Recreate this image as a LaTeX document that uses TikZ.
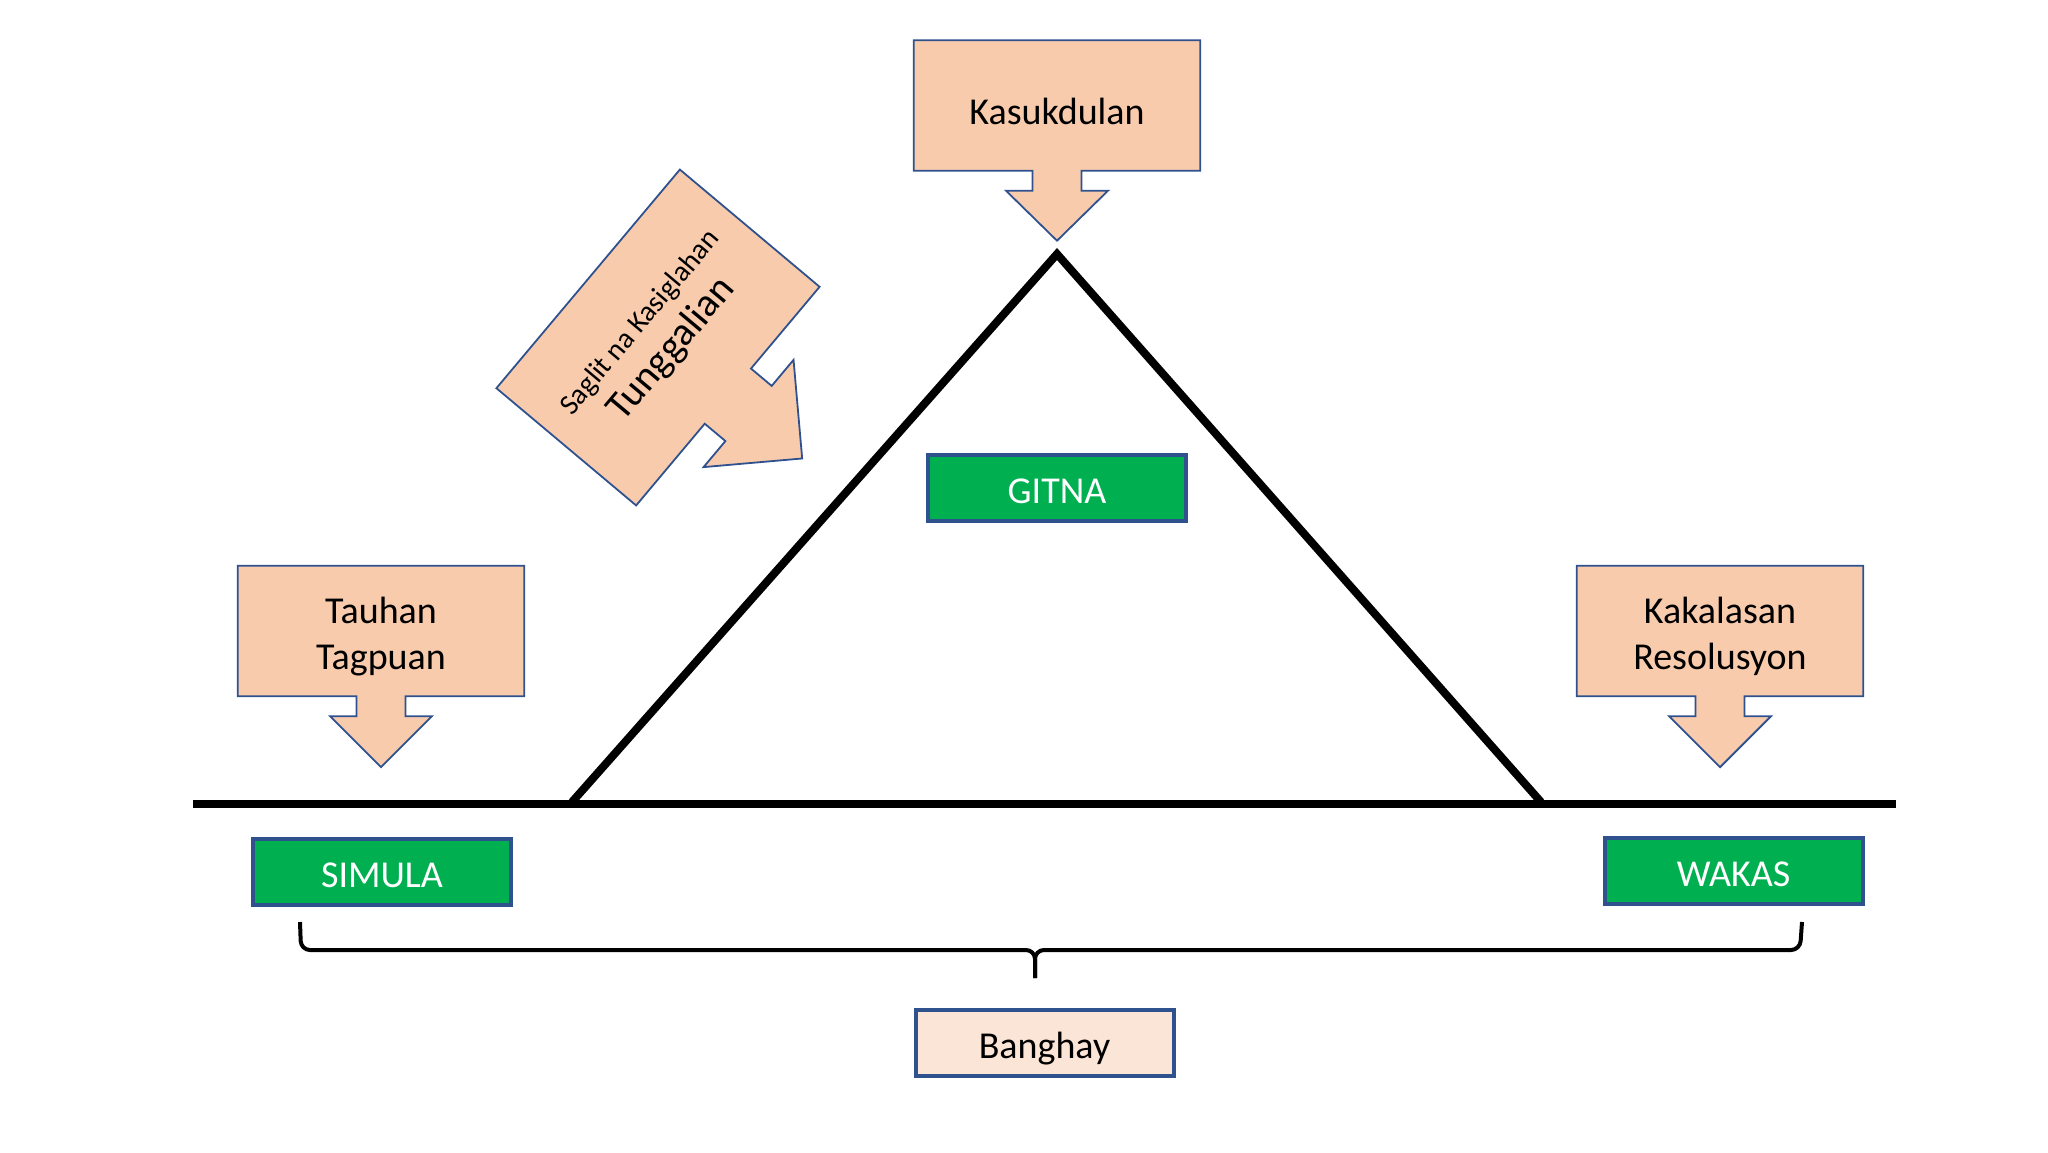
\documentclass[tikz,border=0pt]{standalone}
\usepackage{fontspec}
\setmainfont{Carlito}
\usetikzlibrary{backgrounds,calc}

\definecolor{peach}{HTML}{F8CBAD}
\definecolor{peachlight}{HTML}{FBE5D6}
\definecolor{edgeblue}{HTML}{2F528F}
\definecolor{stagegreen}{HTML}{00B050}

\begin{document}
\begin{tikzpicture}[
    x=1pt, y=-1pt,
    note/.style={align=center, text width=286pt, minimum height=130pt, inner sep=0pt, font=\fontsize{38}{46}\selectfont, execute at begin node={\rule{0pt}{38pt}}},
    callout/.style={fill=peach, draw=edgeblue, line width=1.8pt, line join=miter},
    stagebox/.style={draw=edgeblue, line width=4pt, fill=stagegreen, text=white, minimum width=258pt, minimum height=66pt, inner sep=0pt, text height=30pt, text depth=0pt, font=\fontsize{38}{46}\selectfont},
    plotline/.style={line width=8pt, line join=miter},
    brace/.style={line width=4pt, rounded corners=9pt}
]
\useasboundingbox (0,0) rectangle (2048,1152);

% story line and triangle
\coordinate (lineL) at (193,804);
\coordinate (lineR) at (1896,804);
\coordinate (apex) at (1057,254);
\coordinate (baseL) at (572,802);
\coordinate (baseR) at (1541,802);
\draw[plotline] (lineL) -- (lineR);
\draw[plotline] (baseL) -- (apex) -- (baseR);

% callouts
\node[note] (kas) at (1057,105.5) {Kasukdulan};
\node[note] (tauhan) at (381,631) {Tauhan\\Tagpuan};
\node[note] (kakal) at (1720,631) {Kakalasan\\Resolusyon};
\node[align=center, inner sep=0pt, minimum width=285pt, minimum height=182pt, rotate=50] (sag) at (658,337.5)
    {\fontsize{29}{36}\selectfont Saglit na Kasiglahan\\[10pt]\fontsize{40}{46}\selectfont Tunggalian};

\begin{scope}[on background layer]
\draw[callout] (kas.north west) -- (kas.north east) -- (kas.south east) -- ($(kas.south)+(24.5,0)$) -- ++(0,20) -- ++(26.5,0) -- ($(kas.south)+(0,70)$) -- ($(kas.south)+(-51,20)$) -- ++(26.5,0) -- ++(0,-20) -- (kas.south west) -- cycle;
\draw[callout] (tauhan.north west) -- (tauhan.north east) -- (tauhan.south east) -- ($(tauhan.south)+(24.5,0)$) -- ++(0,20) -- ++(26.5,0) -- ($(tauhan.south)+(0,71)$) -- ($(tauhan.south)+(-51,20)$) -- ++(26.5,0) -- ++(0,-20) -- (tauhan.south west) -- cycle;
\draw[callout] (kakal.north west) -- (kakal.north east) -- (kakal.south east) -- ($(kakal.south)+(24.5,0)$) -- ++(0,20) -- ++(26.5,0) -- ($(kakal.south)+(0,71)$) -- ($(kakal.south)+(-51,20)$) -- ++(26.5,0) -- ++(0,-20) -- (kakal.south west) -- cycle;
\end{scope}
\begin{scope}[on background layer, shift={(sag.south)}, rotate=50]
\draw[callout] (sag.south west) -- (sag.north west) -- (sag.north east) -- (sag.south east) -- (36,0) -- (36,27) -- (70,27) -- (0,97) -- (-70,27) -- (-36,27) -- (-36,0) -- cycle;
\end{scope}

% stages
\node[stagebox] (gitna) at (1057,488) {GITNA};
\node[stagebox] (simula) at (382,872) {SIMULA};
\node[stagebox] (wakas) at (1733.5,871) {WAKAS};

% brace and label
\draw[brace] (300,922) -- (301,950) -- (1035,950) -- (1035,978);
\draw[brace] (1802,922) -- (1800,950) -- (1035,950) -- (1035,978);
\node[stagebox, fill=peachlight, text=black] (banghay) at (1044.5,1043) {Banghay};
\end{tikzpicture}
\end{document}
